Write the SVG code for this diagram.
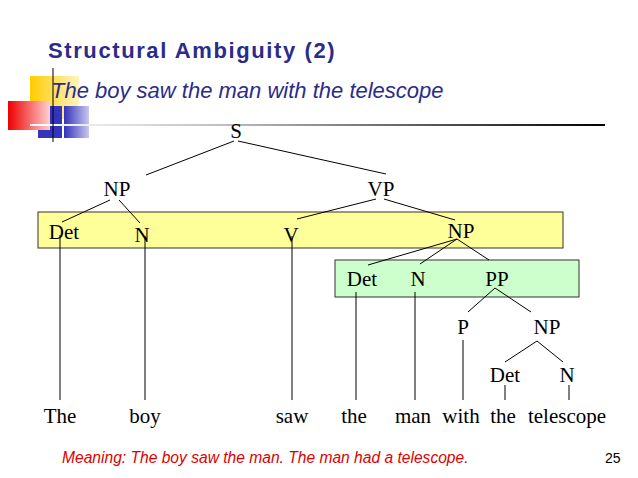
<svg xmlns="http://www.w3.org/2000/svg" width="638" height="478" viewBox="0 0 638 478">
<defs>
<linearGradient id="gy" x1="0" x2="1"><stop offset="0" stop-color="#ffcc00"/><stop offset="1" stop-color="#fff4c0"/></linearGradient>
<linearGradient id="rd" x1="0" x2="1"><stop offset="0" stop-color="#ee0000"/><stop offset="1" stop-color="#ffd0d0"/></linearGradient>
<linearGradient id="bl" x1="0" x2="1"><stop offset="0" stop-color="#3333bb"/><stop offset="1" stop-color="#c8c8f0"/></linearGradient>
<linearGradient id="rule" x1="0" x2="1"><stop offset="0" stop-color="#ffffff"/><stop offset="0.35" stop-color="#bbbbbb"/><stop offset="1" stop-color="#000000"/></linearGradient>
</defs>
<style>
.t{font-family:"Liberation Serif",serif;font-size:21px;fill:#000;text-anchor:middle}
line{stroke:#000;stroke-width:1}
</style>
<rect width="638" height="478" fill="#fff"/>
<g id="decor">
<rect x="30" y="76" width="49" height="43" fill="url(#gy)"/>
<rect x="38" y="106" width="24" height="32" fill="#3333bb"/>
<rect x="64" y="106" width="25" height="32" fill="url(#bl)"/>
<rect x="8" y="101" width="42" height="29" fill="url(#rd)"/>
<rect x="30" y="124" width="575" height="2" fill="url(#rule)"/>
<line x1="53" y1="68" x2="53" y2="142" stroke-width="2"/>
</g>
<text x="48" y="58" font-family="Liberation Sans,sans-serif" font-weight="bold" font-size="22" fill="#2b2b8c" letter-spacing="1.6">Structural Ambiguity (2)</text>
<text x="51" y="98" font-family="Liberation Sans,sans-serif" font-style="italic" font-size="22" fill="#2b2b8c">The boy saw the man with the telescope</text>
<g id="boxes">
<rect x="38" y="212" width="525" height="36" fill="#ffff99" stroke="#333"/>
<rect x="335" y="260" width="244" height="37" fill="#ccffcc" stroke="#333"/>
</g>
<g id="connectors">
<line x1="234" y1="141" x2="146" y2="175"/><line x1="238" y1="141" x2="386" y2="174"/>
<line x1="110" y1="200" x2="62" y2="222"/><line x1="119" y1="200" x2="140" y2="223"/>
<line x1="376" y1="199" x2="297" y2="219"/><line x1="384" y1="199" x2="455" y2="220"/>
<line x1="457" y1="239" x2="368" y2="265"/><line x1="457" y1="239" x2="420" y2="264"/><line x1="457" y1="239" x2="489" y2="260"/>
<line x1="495" y1="288" x2="468" y2="312"/><line x1="495" y1="288" x2="531" y2="312"/>
<line x1="537" y1="341" x2="505" y2="362"/><line x1="537" y1="341" x2="563" y2="362"/>
<line x1="60" y1="235" x2="60" y2="400"/><line x1="145" y1="236" x2="145" y2="400"/><line x1="292" y1="236" x2="292" y2="400"/>
<line x1="356" y1="292" x2="356" y2="400"/><line x1="415" y1="292" x2="415" y2="400"/><line x1="463" y1="340" x2="463" y2="400"/>
<line x1="505" y1="385" x2="505" y2="400"/><line x1="569" y1="385" x2="569" y2="400"/>
</g>
<g id="n-S"><text class="t" x="236" y="138">S</text></g>
<g id="n-NP1"><text class="t" x="117" y="196">NP</text></g>
<g id="n-VP"><text class="t" x="381" y="196">VP</text></g>
<g id="n-Det1"><text class="t" x="64" y="239">Det</text></g>
<g id="n-N1"><text class="t" x="142" y="242">N</text></g>
<g id="n-V"><text class="t" x="291" y="242">V</text></g>
<g id="n-NP2"><text class="t" x="461" y="238">NP</text></g>
<g id="n-Det2"><text class="t" x="362" y="286">Det</text></g>
<g id="n-N2"><text class="t" x="418" y="286">N</text></g>
<g id="n-PP"><text class="t" x="497" y="286">PP</text></g>
<g id="n-P"><text class="t" x="463" y="334">P</text></g>
<g id="n-NP3"><text class="t" x="547" y="334">NP</text></g>
<g id="n-Det3"><text class="t" x="505" y="382">Det</text></g>
<g id="n-N3"><text class="t" x="567" y="382">N</text></g>
<g id="words">
<text class="t" x="60" y="423">The</text><text class="t" x="145" y="423">boy</text><text class="t" x="292" y="423">saw</text>
<text class="t" x="354" y="423">the</text><text class="t" x="413" y="423">man</text><text class="t" x="461" y="423">with</text>
<text class="t" x="503" y="423">the</text><text class="t" x="567" y="423">telescope</text>
</g>
<text x="62" y="463" font-family="Liberation Sans,sans-serif" font-style="italic" font-size="15.6" fill="#dd0000">Meaning: The boy saw the man. The man had a telescope.</text>
<text x="605" y="463" font-family="Liberation Sans,sans-serif" font-size="14" fill="#000">25</text>
</svg>
